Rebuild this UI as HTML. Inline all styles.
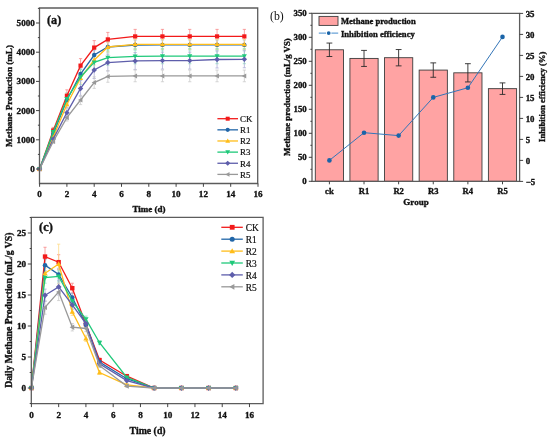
<!DOCTYPE html>
<html><head><meta charset="utf-8"><style>
html,body{margin:0;padding:0;background:#fff;}
body{width:550px;height:440px;overflow:hidden;}
svg{display:block;}
text{fill:#111;}
text[font-weight="bold"]{stroke:#111;stroke-width:0.35px;}
.lg{stroke:#111;stroke-width:0.2px;}
</style></head><body>
<svg width="550" height="440" viewBox="0 0 550 440">
<rect width="550" height="440" fill="#fff"/>
<path d="M53.25 127.37V133.54M51.65 127.37h3.2M51.65 133.54h3.2" stroke="#f88a8a" stroke-width="0.8" fill="none"/><path d="M66.90 89.84V101.57M65.30 89.84h3.2M65.30 101.57h3.2" stroke="#f88a8a" stroke-width="0.8" fill="none"/><path d="M80.55 58.62V72.64M78.95 58.62h3.2M78.95 72.64h3.2" stroke="#f88a8a" stroke-width="0.8" fill="none"/><path d="M94.20 40.58V54.59M92.60 40.58h3.2M92.60 54.59h3.2" stroke="#f88a8a" stroke-width="0.8" fill="none"/><path d="M107.85 32.40V46.42M106.25 32.40h3.2M106.25 46.42h3.2" stroke="#f88a8a" stroke-width="0.8" fill="none"/><path d="M135.15 29.39V43.41M133.55 29.39h3.2M133.55 43.41h3.2" stroke="#f88a8a" stroke-width="0.8" fill="none"/><path d="M162.45 29.39V43.41M160.85 29.39h3.2M160.85 43.41h3.2" stroke="#f88a8a" stroke-width="0.8" fill="none"/><path d="M189.75 29.39V43.41M188.15 29.39h3.2M188.15 43.41h3.2" stroke="#f88a8a" stroke-width="0.8" fill="none"/><path d="M217.05 29.39V43.41M215.45 29.39h3.2M215.45 43.41h3.2" stroke="#f88a8a" stroke-width="0.8" fill="none"/><path d="M244.35 29.39V43.41M242.75 29.39h3.2M242.75 43.41h3.2" stroke="#f88a8a" stroke-width="0.8" fill="none"/><path d="M53.25 131.97V135.95M51.65 131.97h3.2M51.65 135.95h3.2" stroke="#8fb3d6" stroke-width="0.8" fill="none"/><path d="M66.90 96.03V103.86M65.30 96.03h3.2M65.30 103.86h3.2" stroke="#8fb3d6" stroke-width="0.8" fill="none"/><path d="M80.55 69.05V78.98M78.95 69.05h3.2M78.95 78.98h3.2" stroke="#8fb3d6" stroke-width="0.8" fill="none"/><path d="M94.20 50.04V59.97M92.60 50.04h3.2M92.60 59.97h3.2" stroke="#8fb3d6" stroke-width="0.8" fill="none"/><path d="M107.85 42.04V51.97M106.25 42.04h3.2M106.25 51.97h3.2" stroke="#8fb3d6" stroke-width="0.8" fill="none"/><path d="M135.15 40.02V49.95M133.55 40.02h3.2M133.55 49.95h3.2" stroke="#8fb3d6" stroke-width="0.8" fill="none"/><path d="M162.45 39.94V49.86M160.85 39.94h3.2M160.85 49.86h3.2" stroke="#8fb3d6" stroke-width="0.8" fill="none"/><path d="M189.75 39.94V49.86M188.15 39.94h3.2M188.15 49.86h3.2" stroke="#8fb3d6" stroke-width="0.8" fill="none"/><path d="M217.05 39.94V49.86M215.45 39.94h3.2M215.45 49.86h3.2" stroke="#8fb3d6" stroke-width="0.8" fill="none"/><path d="M244.35 39.94V49.86M242.75 39.94h3.2M242.75 49.86h3.2" stroke="#8fb3d6" stroke-width="0.8" fill="none"/><path d="M53.25 135.06V138.70M51.65 135.06h3.2M51.65 138.70h3.2" stroke="#ffdc8a" stroke-width="0.8" fill="none"/><path d="M66.90 100.81V108.12M65.30 100.81h3.2M65.30 108.12h3.2" stroke="#ffdc8a" stroke-width="0.8" fill="none"/><path d="M80.55 73.05V82.98M78.95 73.05h3.2M78.95 82.98h3.2" stroke="#ffdc8a" stroke-width="0.8" fill="none"/><path d="M94.20 55.03V64.96M92.60 55.03h3.2M92.60 64.96h3.2" stroke="#ffdc8a" stroke-width="0.8" fill="none"/><path d="M107.85 42.04V51.97M106.25 42.04h3.2M106.25 51.97h3.2" stroke="#ffdc8a" stroke-width="0.8" fill="none"/><path d="M135.15 39.35V49.28M133.55 39.35h3.2M133.55 49.28h3.2" stroke="#ffdc8a" stroke-width="0.8" fill="none"/><path d="M162.45 39.50V49.43M160.85 39.50h3.2M160.85 49.43h3.2" stroke="#ffdc8a" stroke-width="0.8" fill="none"/><path d="M189.75 39.50V49.43M188.15 39.50h3.2M188.15 49.43h3.2" stroke="#ffdc8a" stroke-width="0.8" fill="none"/><path d="M217.05 39.50V49.43M215.45 39.50h3.2M215.45 49.43h3.2" stroke="#ffdc8a" stroke-width="0.8" fill="none"/><path d="M244.35 39.50V49.43M242.75 39.50h3.2M242.75 49.43h3.2" stroke="#ffdc8a" stroke-width="0.8" fill="none"/><path d="M53.25 128.70V135.13M51.65 128.70h3.2M51.65 135.13h3.2" stroke="#8fe4bd" stroke-width="0.8" fill="none"/><path d="M66.90 92.85V104.99M65.30 92.85h3.2M65.30 104.99h3.2" stroke="#8fe4bd" stroke-width="0.8" fill="none"/><path d="M80.55 69.43V84.61M78.95 69.43h3.2M78.95 84.61h3.2" stroke="#8fe4bd" stroke-width="0.8" fill="none"/><path d="M94.20 54.83V70.01M92.60 54.83h3.2M92.60 70.01h3.2" stroke="#8fe4bd" stroke-width="0.8" fill="none"/><path d="M107.85 50.01V65.19M106.25 50.01h3.2M106.25 65.19h3.2" stroke="#8fe4bd" stroke-width="0.8" fill="none"/><path d="M135.15 48.70V63.88M133.55 48.70h3.2M133.55 63.88h3.2" stroke="#8fe4bd" stroke-width="0.8" fill="none"/><path d="M162.45 48.55V63.73M160.85 48.55h3.2M160.85 63.73h3.2" stroke="#8fe4bd" stroke-width="0.8" fill="none"/><path d="M189.75 48.55V63.73M188.15 48.55h3.2M188.15 63.73h3.2" stroke="#8fe4bd" stroke-width="0.8" fill="none"/><path d="M217.05 48.55V63.73M215.45 48.55h3.2M215.45 63.73h3.2" stroke="#8fe4bd" stroke-width="0.8" fill="none"/><path d="M244.35 48.55V63.73M242.75 48.55h3.2M242.75 63.73h3.2" stroke="#8fe4bd" stroke-width="0.8" fill="none"/><path d="M53.25 136.02V141.83M51.65 136.02h3.2M51.65 141.83h3.2" stroke="#aeaed6" stroke-width="0.8" fill="none"/><path d="M66.90 107.20V118.09M65.30 107.20h3.2M65.30 118.09h3.2" stroke="#aeaed6" stroke-width="0.8" fill="none"/><path d="M80.55 80.62V96.20M78.95 80.62h3.2M78.95 96.20h3.2" stroke="#aeaed6" stroke-width="0.8" fill="none"/><path d="M94.20 61.54V78.48M92.60 61.54h3.2M92.60 78.48h3.2" stroke="#aeaed6" stroke-width="0.8" fill="none"/><path d="M107.85 54.13V71.06M106.25 54.13h3.2M106.25 71.06h3.2" stroke="#aeaed6" stroke-width="0.8" fill="none"/><path d="M135.15 52.49V69.43M133.55 52.49h3.2M133.55 69.43h3.2" stroke="#aeaed6" stroke-width="0.8" fill="none"/><path d="M162.45 52.14V69.08M160.85 52.14h3.2M160.85 69.08h3.2" stroke="#aeaed6" stroke-width="0.8" fill="none"/><path d="M189.75 52.14V69.08M188.15 52.14h3.2M188.15 69.08h3.2" stroke="#aeaed6" stroke-width="0.8" fill="none"/><path d="M217.05 51.03V67.97M215.45 51.03h3.2M215.45 67.97h3.2" stroke="#aeaed6" stroke-width="0.8" fill="none"/><path d="M244.35 50.83V67.76M242.75 50.83h3.2M242.75 67.76h3.2" stroke="#aeaed6" stroke-width="0.8" fill="none"/><path d="M53.25 139.72V143.38M51.65 139.72h3.2M51.65 143.38h3.2" stroke="#cccccc" stroke-width="0.8" fill="none"/><path d="M66.90 114.18V121.03M65.30 114.18h3.2M65.30 121.03h3.2" stroke="#cccccc" stroke-width="0.8" fill="none"/><path d="M80.55 95.40V104.60M78.95 95.40h3.2M78.95 104.60h3.2" stroke="#cccccc" stroke-width="0.8" fill="none"/><path d="M94.20 76.84V88.36M92.60 76.84h3.2M92.60 88.36h3.2" stroke="#cccccc" stroke-width="0.8" fill="none"/><path d="M107.85 70.57V82.25M106.25 70.57h3.2M106.25 82.25h3.2" stroke="#cccccc" stroke-width="0.8" fill="none"/><path d="M135.15 70.07V81.75M133.55 70.07h3.2M133.55 81.75h3.2" stroke="#cccccc" stroke-width="0.8" fill="none"/><path d="M162.45 70.07V81.75M160.85 70.07h3.2M160.85 81.75h3.2" stroke="#cccccc" stroke-width="0.8" fill="none"/><path d="M189.75 70.07V81.75M188.15 70.07h3.2M188.15 81.75h3.2" stroke="#cccccc" stroke-width="0.8" fill="none"/><path d="M217.05 70.07V81.75M215.45 70.07h3.2M215.45 81.75h3.2" stroke="#cccccc" stroke-width="0.8" fill="none"/><path d="M244.35 70.07V81.75M242.75 70.07h3.2M242.75 81.75h3.2" stroke="#cccccc" stroke-width="0.8" fill="none"/><polyline points="39.60,169.00 53.25,130.46 66.90,95.71 80.55,65.63 94.20,47.59 107.85,39.41 135.15,36.40 162.45,36.40 189.75,36.40 217.05,36.40 244.35,36.40" fill="none" stroke="#f21a1a" stroke-width="1.3"/><rect x="37.50" y="166.90" width="4.20" height="4.20" fill="#f21a1a"/><rect x="51.15" y="128.36" width="4.20" height="4.20" fill="#f21a1a"/><rect x="64.80" y="93.61" width="4.20" height="4.20" fill="#f21a1a"/><rect x="78.45" y="63.53" width="4.20" height="4.20" fill="#f21a1a"/><rect x="92.10" y="45.49" width="4.20" height="4.20" fill="#f21a1a"/><rect x="105.75" y="37.31" width="4.20" height="4.20" fill="#f21a1a"/><rect x="133.05" y="34.30" width="4.20" height="4.20" fill="#f21a1a"/><rect x="160.35" y="34.30" width="4.20" height="4.20" fill="#f21a1a"/><rect x="187.65" y="34.30" width="4.20" height="4.20" fill="#f21a1a"/><rect x="214.95" y="34.30" width="4.20" height="4.20" fill="#f21a1a"/><rect x="242.25" y="34.30" width="4.20" height="4.20" fill="#f21a1a"/><polyline points="39.60,169.00 53.25,133.96 66.90,99.94 80.55,74.01 94.20,55.00 107.85,47.00 135.15,44.99 162.45,44.90 189.75,44.90 217.05,44.90 244.35,44.90" fill="none" stroke="#2166a8" stroke-width="1.3"/><circle cx="39.60" cy="169.00" r="2.21" fill="#2166a8"/><circle cx="53.25" cy="133.96" r="2.21" fill="#2166a8"/><circle cx="66.90" cy="99.94" r="2.21" fill="#2166a8"/><circle cx="80.55" cy="74.01" r="2.21" fill="#2166a8"/><circle cx="94.20" cy="55.00" r="2.21" fill="#2166a8"/><circle cx="107.85" cy="47.00" r="2.21" fill="#2166a8"/><circle cx="135.15" cy="44.99" r="2.21" fill="#2166a8"/><circle cx="162.45" cy="44.90" r="2.21" fill="#2166a8"/><circle cx="189.75" cy="44.90" r="2.21" fill="#2166a8"/><circle cx="217.05" cy="44.90" r="2.21" fill="#2166a8"/><circle cx="244.35" cy="44.90" r="2.21" fill="#2166a8"/><polyline points="39.60,169.00 53.25,136.88 66.90,104.47 80.55,78.01 94.20,60.00 107.85,47.00 135.15,44.32 162.45,44.46 189.75,44.46 217.05,44.46 244.35,44.46" fill="none" stroke="#ffbd1a" stroke-width="1.3"/><polygon points="39.60,166.48 42.12,170.89 37.08,170.89" fill="#ffbd1a"/><polygon points="53.25,134.36 55.77,138.77 50.73,138.77" fill="#ffbd1a"/><polygon points="66.90,101.95 69.42,106.36 64.38,106.36" fill="#ffbd1a"/><polygon points="80.55,75.49 83.07,79.90 78.03,79.90" fill="#ffbd1a"/><polygon points="94.20,57.48 96.72,61.89 91.68,61.89" fill="#ffbd1a"/><polygon points="107.85,44.48 110.37,48.89 105.33,48.89" fill="#ffbd1a"/><polygon points="135.15,41.80 137.67,46.21 132.63,46.21" fill="#ffbd1a"/><polygon points="162.45,41.94 164.97,46.35 159.93,46.35" fill="#ffbd1a"/><polygon points="189.75,41.94 192.27,46.35 187.23,46.35" fill="#ffbd1a"/><polygon points="217.05,41.94 219.57,46.35 214.53,46.35" fill="#ffbd1a"/><polygon points="244.35,41.94 246.87,46.35 241.83,46.35" fill="#ffbd1a"/><polyline points="39.60,169.00 53.25,131.92 66.90,98.92 80.55,77.02 94.20,62.42 107.85,57.60 135.15,56.29 162.45,56.14 189.75,56.14 217.05,56.14 244.35,56.14" fill="none" stroke="#1fc97a" stroke-width="1.3"/><polygon points="39.60,171.52 42.12,167.11 37.08,167.11" fill="#1fc97a"/><polygon points="53.25,134.44 55.77,130.03 50.73,130.03" fill="#1fc97a"/><polygon points="66.90,101.44 69.42,97.03 64.38,97.03" fill="#1fc97a"/><polygon points="80.55,79.54 83.07,75.13 78.03,75.13" fill="#1fc97a"/><polygon points="94.20,64.94 96.72,60.53 91.68,60.53" fill="#1fc97a"/><polygon points="107.85,60.12 110.37,55.71 105.33,55.71" fill="#1fc97a"/><polygon points="135.15,58.81 137.67,54.40 132.63,54.40" fill="#1fc97a"/><polygon points="162.45,58.66 164.97,54.25 159.93,54.25" fill="#1fc97a"/><polygon points="189.75,58.66 192.27,54.25 187.23,54.25" fill="#1fc97a"/><polygon points="217.05,58.66 219.57,54.25 214.53,54.25" fill="#1fc97a"/><polygon points="244.35,58.66 246.87,54.25 241.83,54.25" fill="#1fc97a"/><polyline points="39.60,169.00 53.25,138.92 66.90,112.64 80.55,88.41 94.20,70.01 107.85,62.60 135.15,60.96 162.45,60.61 189.75,60.61 217.05,59.50 244.35,59.30" fill="none" stroke="#5e5eab" stroke-width="1.3"/><polygon points="39.60,166.27 42.33,169.00 39.60,171.73 36.87,169.00" fill="#5e5eab"/><polygon points="53.25,136.19 55.98,138.92 53.25,141.65 50.52,138.92" fill="#5e5eab"/><polygon points="66.90,109.91 69.63,112.64 66.90,115.37 64.17,112.64" fill="#5e5eab"/><polygon points="80.55,85.68 83.28,88.41 80.55,91.14 77.82,88.41" fill="#5e5eab"/><polygon points="94.20,67.28 96.93,70.01 94.20,72.74 91.47,70.01" fill="#5e5eab"/><polygon points="107.85,59.87 110.58,62.60 107.85,65.33 105.12,62.60" fill="#5e5eab"/><polygon points="135.15,58.23 137.88,60.96 135.15,63.69 132.42,60.96" fill="#5e5eab"/><polygon points="162.45,57.88 165.18,60.61 162.45,63.34 159.72,60.61" fill="#5e5eab"/><polygon points="189.75,57.88 192.48,60.61 189.75,63.34 187.02,60.61" fill="#5e5eab"/><polygon points="217.05,56.77 219.78,59.50 217.05,62.23 214.32,59.50" fill="#5e5eab"/><polygon points="244.35,56.57 247.08,59.30 244.35,62.03 241.62,59.30" fill="#5e5eab"/><polyline points="39.60,169.00 53.25,141.55 66.90,117.61 80.55,100.00 94.20,82.60 107.85,76.41 135.15,75.91 162.45,75.91 189.75,75.91 217.05,75.91 244.35,75.91" fill="none" stroke="#999999" stroke-width="1.3"/><polygon points="37.08,169.00 41.49,166.48 41.49,171.52" fill="#999999"/><polygon points="50.73,141.55 55.14,139.03 55.14,144.07" fill="#999999"/><polygon points="64.38,117.61 68.79,115.09 68.79,120.13" fill="#999999"/><polygon points="78.03,100.00 82.44,97.48 82.44,102.52" fill="#999999"/><polygon points="91.68,82.60 96.09,80.08 96.09,85.12" fill="#999999"/><polygon points="105.33,76.41 109.74,73.89 109.74,78.93" fill="#999999"/><polygon points="132.63,75.91 137.04,73.39 137.04,78.43" fill="#999999"/><polygon points="159.93,75.91 164.34,73.39 164.34,78.43" fill="#999999"/><polygon points="187.23,75.91 191.64,73.39 191.64,78.43" fill="#999999"/><polygon points="214.53,75.91 218.94,73.39 218.94,78.43" fill="#999999"/><polygon points="241.83,75.91 246.24,73.39 246.24,78.43" fill="#999999"/>
<path d="M39.5 8.0H257.7V183.5H39.5Z" fill="none" stroke="#5c5c5c" stroke-width="1.3"/>
<text x="34.8" y="172.00" text-anchor="end" font-size="9.1" font-weight="bold" font-family="Liberation Serif, serif">0</text>
<text x="34.8" y="142.80" text-anchor="end" font-size="9.1" font-weight="bold" font-family="Liberation Serif, serif">1000</text>
<text x="34.8" y="113.60" text-anchor="end" font-size="9.1" font-weight="bold" font-family="Liberation Serif, serif">2000</text>
<text x="34.8" y="84.40" text-anchor="end" font-size="9.1" font-weight="bold" font-family="Liberation Serif, serif">3000</text>
<text x="34.8" y="55.20" text-anchor="end" font-size="9.1" font-weight="bold" font-family="Liberation Serif, serif">4000</text>
<text x="34.8" y="26.00" text-anchor="end" font-size="9.1" font-weight="bold" font-family="Liberation Serif, serif">5000</text>
<text x="39.60" y="196.9" text-anchor="middle" font-size="9.1" font-weight="bold" font-family="Liberation Serif, serif">0</text>
<text x="66.90" y="196.9" text-anchor="middle" font-size="9.1" font-weight="bold" font-family="Liberation Serif, serif">2</text>
<text x="94.20" y="196.9" text-anchor="middle" font-size="9.1" font-weight="bold" font-family="Liberation Serif, serif">4</text>
<text x="121.50" y="196.9" text-anchor="middle" font-size="9.1" font-weight="bold" font-family="Liberation Serif, serif">6</text>
<text x="148.80" y="196.9" text-anchor="middle" font-size="9.1" font-weight="bold" font-family="Liberation Serif, serif">8</text>
<text x="176.10" y="196.9" text-anchor="middle" font-size="9.1" font-weight="bold" font-family="Liberation Serif, serif">10</text>
<text x="203.40" y="196.9" text-anchor="middle" font-size="9.1" font-weight="bold" font-family="Liberation Serif, serif">12</text>
<text x="230.70" y="196.9" text-anchor="middle" font-size="9.1" font-weight="bold" font-family="Liberation Serif, serif">14</text>
<text x="258.00" y="196.9" text-anchor="middle" font-size="9.1" font-weight="bold" font-family="Liberation Serif, serif">16</text>
<path d="M36.0 169.00H39.5M36.0 139.80H39.5M36.0 110.60H39.5M36.0 81.40H39.5M36.0 52.20H39.5M36.0 23.00H39.5M37.9 154.40H39.5M37.9 125.20H39.5M37.9 96.00H39.5M37.9 66.80H39.5M37.9 37.60H39.5M37.9 8.40H39.5M39.60 183.5V186.8M66.90 183.5V186.8M94.20 183.5V186.8M121.50 183.5V186.8M148.80 183.5V186.8M176.10 183.5V186.8M203.40 183.5V186.8M230.70 183.5V186.8M258.00 183.5V186.8" stroke="#3a3a3a" stroke-width="0.95"/>
<text x="149" y="211.7" text-anchor="middle" font-size="9" font-weight="bold" font-family="Liberation Serif, serif">Time (d)</text>
<text transform="translate(12.4 96) rotate(-90)" text-anchor="middle" font-size="9.1" font-weight="bold" font-family="Liberation Serif, serif">Methane Production (mL)</text>
<text x="47" y="23.9" font-size="12.2" font-weight="bold" font-family="Liberation Serif, serif">(a)</text>
<path d="M217.4 118.70H238" stroke="#f21a1a" stroke-width="1.3"/>
<rect x="225.70" y="116.70" width="4.00" height="4.00" fill="#f21a1a"/>
<text x="240" y="122.00" font-size="8.9" class="lg" font-family="Liberation Serif, serif">CK</text>
<path d="M217.4 129.84H238" stroke="#2166a8" stroke-width="1.3"/>
<circle cx="227.70" cy="129.84" r="2.10" fill="#2166a8"/>
<text x="240" y="133.14" font-size="8.9" class="lg" font-family="Liberation Serif, serif">R1</text>
<path d="M217.4 140.98H238" stroke="#ffbd1a" stroke-width="1.3"/>
<polygon points="227.70,138.58 230.10,142.78 225.30,142.78" fill="#ffbd1a"/>
<text x="240" y="144.28" font-size="8.9" class="lg" font-family="Liberation Serif, serif">R2</text>
<path d="M217.4 152.12H238" stroke="#1fc97a" stroke-width="1.3"/>
<polygon points="227.70,154.52 230.10,150.32 225.30,150.32" fill="#1fc97a"/>
<text x="240" y="155.42" font-size="8.9" class="lg" font-family="Liberation Serif, serif">R3</text>
<path d="M217.4 163.26H238" stroke="#5e5eab" stroke-width="1.3"/>
<polygon points="227.70,160.66 230.30,163.26 227.70,165.86 225.10,163.26" fill="#5e5eab"/>
<text x="240" y="166.56" font-size="8.9" class="lg" font-family="Liberation Serif, serif">R4</text>
<path d="M217.4 174.40H238" stroke="#999999" stroke-width="1.3"/>
<polygon points="225.30,174.40 229.50,172.00 229.50,176.80" fill="#999999"/>
<text x="240" y="177.70" font-size="8.9" class="lg" font-family="Liberation Serif, serif">R5</text>
<rect x="315.30" y="49.78" width="28.2" height="131.52" fill="#ffa3a3" stroke="#3c3c3c" stroke-width="0.9"/>
<rect x="349.92" y="58.42" width="28.2" height="122.88" fill="#ffa3a3" stroke="#3c3c3c" stroke-width="0.9"/>
<rect x="384.54" y="57.70" width="28.2" height="123.60" fill="#ffa3a3" stroke="#3c3c3c" stroke-width="0.9"/>
<rect x="419.16" y="70.08" width="28.2" height="111.22" fill="#ffa3a3" stroke="#3c3c3c" stroke-width="0.9"/>
<rect x="453.78" y="72.82" width="28.2" height="108.48" fill="#ffa3a3" stroke="#3c3c3c" stroke-width="0.9"/>
<rect x="488.40" y="88.66" width="28.2" height="92.64" fill="#ffa3a3" stroke="#3c3c3c" stroke-width="0.9"/>
<path d="M329.40 43.06V56.50M326.50 43.06h5.8M326.50 56.50h5.8" stroke="#2a2a2a" stroke-width="0.9" fill="none"/>
<path d="M364.02 50.40V66.44M361.12 50.40h5.8M361.12 66.44h5.8" stroke="#2a2a2a" stroke-width="0.9" fill="none"/>
<path d="M398.64 49.54V65.86M395.74 49.54h5.8M395.74 65.86h5.8" stroke="#2a2a2a" stroke-width="0.9" fill="none"/>
<path d="M433.26 62.88V77.28M430.36 62.88h5.8M430.36 77.28h5.8" stroke="#2a2a2a" stroke-width="0.9" fill="none"/>
<path d="M467.88 63.70V81.94M464.98 63.70h5.8M464.98 81.94h5.8" stroke="#2a2a2a" stroke-width="0.9" fill="none"/>
<path d="M502.50 82.90V94.42M499.60 82.90h5.8M499.60 94.42h5.8" stroke="#2a2a2a" stroke-width="0.9" fill="none"/>
<polyline points="329.40,160.40 364.02,132.68 398.64,135.62 433.26,97.40 467.88,87.74 502.50,36.92" fill="none" stroke="#3375b8" stroke-width="1"/>
<circle cx="329.40" cy="160.40" r="2.3" fill="#1a64a8"/>
<circle cx="364.02" cy="132.68" r="2.3" fill="#1a64a8"/>
<circle cx="398.64" cy="135.62" r="2.3" fill="#1a64a8"/>
<circle cx="433.26" cy="97.40" r="2.3" fill="#1a64a8"/>
<circle cx="467.88" cy="87.74" r="2.3" fill="#1a64a8"/>
<circle cx="502.50" cy="36.92" r="2.3" fill="#1a64a8"/>
<path d="M312.0 13.3H519.6V181.3H312.0Z" fill="none" stroke="#5c5c5c" stroke-width="1.3"/>
<text x="306.7" y="184.10" text-anchor="end" font-size="8.8" font-weight="bold" font-family="Liberation Serif, serif">0</text>
<text x="306.7" y="160.10" text-anchor="end" font-size="8.8" font-weight="bold" font-family="Liberation Serif, serif">50</text>
<text x="306.7" y="136.10" text-anchor="end" font-size="8.8" font-weight="bold" font-family="Liberation Serif, serif">100</text>
<text x="306.7" y="112.10" text-anchor="end" font-size="8.8" font-weight="bold" font-family="Liberation Serif, serif">150</text>
<text x="306.7" y="88.10" text-anchor="end" font-size="8.8" font-weight="bold" font-family="Liberation Serif, serif">200</text>
<text x="306.7" y="64.10" text-anchor="end" font-size="8.8" font-weight="bold" font-family="Liberation Serif, serif">250</text>
<text x="306.7" y="40.10" text-anchor="end" font-size="8.8" font-weight="bold" font-family="Liberation Serif, serif">300</text>
<text x="306.7" y="16.10" text-anchor="end" font-size="8.8" font-weight="bold" font-family="Liberation Serif, serif">350</text>
<text x="525.7" y="184.70" font-size="8.8" font-weight="bold" font-family="Liberation Serif, serif">−5</text>
<text x="525.7" y="163.70" font-size="8.8" font-weight="bold" font-family="Liberation Serif, serif">0</text>
<text x="525.7" y="142.70" font-size="8.8" font-weight="bold" font-family="Liberation Serif, serif">5</text>
<text x="525.7" y="121.70" font-size="8.8" font-weight="bold" font-family="Liberation Serif, serif">10</text>
<text x="525.7" y="100.70" font-size="8.8" font-weight="bold" font-family="Liberation Serif, serif">15</text>
<text x="525.7" y="79.70" font-size="8.8" font-weight="bold" font-family="Liberation Serif, serif">20</text>
<text x="525.7" y="58.70" font-size="8.8" font-weight="bold" font-family="Liberation Serif, serif">25</text>
<text x="525.7" y="37.70" font-size="8.8" font-weight="bold" font-family="Liberation Serif, serif">30</text>
<text x="525.7" y="16.70" font-size="8.8" font-weight="bold" font-family="Liberation Serif, serif">35</text>
<text x="329.40" y="193.70000000000002" text-anchor="middle" font-size="8.6" font-weight="bold" font-family="Liberation Serif, serif">ck</text>
<text x="364.02" y="193.70000000000002" text-anchor="middle" font-size="8.6" font-weight="bold" font-family="Liberation Serif, serif">R1</text>
<text x="398.64" y="193.70000000000002" text-anchor="middle" font-size="8.6" font-weight="bold" font-family="Liberation Serif, serif">R2</text>
<text x="433.26" y="193.70000000000002" text-anchor="middle" font-size="8.6" font-weight="bold" font-family="Liberation Serif, serif">R3</text>
<text x="467.88" y="193.70000000000002" text-anchor="middle" font-size="8.6" font-weight="bold" font-family="Liberation Serif, serif">R4</text>
<text x="502.50" y="193.70000000000002" text-anchor="middle" font-size="8.6" font-weight="bold" font-family="Liberation Serif, serif">R5</text>
<path d="M308.8 181.30H312.0M308.8 157.30H312.0M308.8 133.30H312.0M308.8 109.30H312.0M308.8 85.30H312.0M308.8 61.30H312.0M308.8 37.30H312.0M308.8 13.30H312.0M310.4 169.30H312.0M310.4 145.30H312.0M310.4 121.30H312.0M310.4 97.30H312.0M310.4 73.30H312.0M310.4 49.30H312.0M310.4 25.30H312.0M519.6 181.40H523.1M519.6 160.40H523.1M519.6 139.40H523.1M519.6 118.40H523.1M519.6 97.40H523.1M519.6 76.40H523.1M519.6 55.40H523.1M519.6 34.40H523.1M519.6 13.40H523.1M329.40 181.3V184.3M364.02 181.3V184.3M398.64 181.3V184.3M433.26 181.3V184.3M467.88 181.3V184.3M502.50 181.3V184.3" stroke="#3a3a3a" stroke-width="0.95"/>
<text x="416" y="205.2" text-anchor="middle" font-size="9" font-weight="bold" font-family="Liberation Serif, serif">Group</text>
<text transform="translate(290 97.1) rotate(-90)" text-anchor="middle" font-size="8.75" font-weight="bold" font-family="Liberation Serif, serif">Methane production (mL/g VS)</text>
<text transform="translate(544.7 96.8) rotate(-90)" text-anchor="middle" font-size="8.6" font-weight="bold" font-family="Liberation Serif, serif">Inhibition efficiency (%)</text>
<text x="270" y="19.8" font-size="11.8" font-family="Liberation Serif, serif">(b)</text>
<rect x="319" y="16.4" width="19" height="9" fill="#ffa3a3" stroke="#3c3c3c" stroke-width="0.9"/>
<text x="341" y="23.8" font-size="8.55" font-weight="bold" font-family="Liberation Serif, serif">Methane production</text>
<path d="M318.8 33.1H326M331.4 33.1H338.2" stroke="#6aa3d8" stroke-width="1.1"/><circle cx="328.7" cy="33.1" r="1.9" fill="#1a64a8"/>
<text x="341" y="36.6" font-size="8.6" font-weight="bold" font-family="Liberation Serif, serif">Inhibition efficiency</text>
<path d="M45.03 247.26V265.86M43.43 247.26h3.2M43.43 265.86h3.2" stroke="#f88a8a" stroke-width="0.8" fill="none"/><path d="M58.66 254.70V269.58M57.06 254.70h3.2M57.06 269.58h3.2" stroke="#f88a8a" stroke-width="0.8" fill="none"/><path d="M72.29 283.22V293.14M70.69 283.22h3.2M70.69 293.14h3.2" stroke="#f88a8a" stroke-width="0.8" fill="none"/><path d="M85.92 321.04V327.24M84.32 321.04h3.2M84.32 327.24h3.2" stroke="#f88a8a" stroke-width="0.8" fill="none"/><path d="M99.55 358.24V361.96M97.95 358.24h3.2M97.95 361.96h3.2" stroke="#f88a8a" stroke-width="0.8" fill="none"/><path d="M126.81 374.36V378.08M125.21 374.36h3.2M125.21 378.08h3.2" stroke="#f88a8a" stroke-width="0.8" fill="none"/><path d="M45.03 259.66V270.82M43.43 259.66h3.2M43.43 270.82h3.2" stroke="#8fb3d6" stroke-width="0.8" fill="none"/><path d="M58.66 268.34V280.74M57.06 268.34h3.2M57.06 280.74h3.2" stroke="#8fb3d6" stroke-width="0.8" fill="none"/><path d="M72.29 293.14V301.82M70.69 293.14h3.2M70.69 301.82h3.2" stroke="#8fb3d6" stroke-width="0.8" fill="none"/><path d="M85.92 321.66V327.86M84.32 321.66h3.2M84.32 327.86h3.2" stroke="#8fb3d6" stroke-width="0.8" fill="none"/><path d="M99.55 360.10V363.82M97.95 360.10h3.2M97.95 363.82h3.2" stroke="#8fb3d6" stroke-width="0.8" fill="none"/><path d="M126.81 377.46V379.94M125.21 377.46h3.2M125.21 379.94h3.2" stroke="#8fb3d6" stroke-width="0.8" fill="none"/><path d="M45.03 268.34V278.26M43.43 268.34h3.2M43.43 278.26h3.2" stroke="#ffdc8a" stroke-width="0.8" fill="none"/><path d="M58.66 244.16V283.84M57.06 244.16h3.2M57.06 283.84h3.2" stroke="#ffdc8a" stroke-width="0.8" fill="none"/><path d="M72.29 308.02V315.46M70.69 308.02h3.2M70.69 315.46h3.2" stroke="#ffdc8a" stroke-width="0.8" fill="none"/><path d="M85.92 335.30V341.50M84.32 335.30h3.2M84.32 341.50h3.2" stroke="#ffdc8a" stroke-width="0.8" fill="none"/><path d="M99.55 370.64V374.36M97.95 370.64h3.2M97.95 374.36h3.2" stroke="#ffdc8a" stroke-width="0.8" fill="none"/><path d="M126.81 383.66V386.14M125.21 383.66h3.2M125.21 386.14h3.2" stroke="#ffdc8a" stroke-width="0.8" fill="none"/><path d="M45.03 272.06V283.22M43.43 272.06h3.2M43.43 283.22h3.2" stroke="#8fe4bd" stroke-width="0.8" fill="none"/><path d="M58.66 270.82V281.98M57.06 270.82h3.2M57.06 281.98h3.2" stroke="#8fe4bd" stroke-width="0.8" fill="none"/><path d="M72.29 296.86V305.54M70.69 296.86h3.2M70.69 305.54h3.2" stroke="#8fe4bd" stroke-width="0.8" fill="none"/><path d="M85.92 316.08V322.28M84.32 316.08h3.2M84.32 322.28h3.2" stroke="#8fe4bd" stroke-width="0.8" fill="none"/><path d="M99.55 340.88V344.60M97.95 340.88h3.2M97.95 344.60h3.2" stroke="#8fe4bd" stroke-width="0.8" fill="none"/><path d="M126.81 376.22V378.70M125.21 376.22h3.2M125.21 378.70h3.2" stroke="#8fe4bd" stroke-width="0.8" fill="none"/><path d="M45.03 289.11V301.51M43.43 289.11h3.2M43.43 301.51h3.2" stroke="#aeaed6" stroke-width="0.8" fill="none"/><path d="M58.66 278.88V295.00M57.06 278.88h3.2M57.06 295.00h3.2" stroke="#aeaed6" stroke-width="0.8" fill="none"/><path d="M72.29 300.58V309.26M70.69 300.58h3.2M70.69 309.26h3.2" stroke="#aeaed6" stroke-width="0.8" fill="none"/><path d="M85.92 320.42V326.62M84.32 320.42h3.2M84.32 326.62h3.2" stroke="#aeaed6" stroke-width="0.8" fill="none"/><path d="M99.55 361.96V365.68M97.95 361.96h3.2M97.95 365.68h3.2" stroke="#aeaed6" stroke-width="0.8" fill="none"/><path d="M126.81 379.32V381.80M125.21 379.32h3.2M125.21 381.80h3.2" stroke="#aeaed6" stroke-width="0.8" fill="none"/><path d="M45.03 300.58V314.22M43.43 300.58h3.2M43.43 314.22h3.2" stroke="#cccccc" stroke-width="0.8" fill="none"/><path d="M58.66 283.22V300.58M57.06 283.22h3.2M57.06 300.58h3.2" stroke="#cccccc" stroke-width="0.8" fill="none"/><path d="M72.29 323.52V330.96M70.69 323.52h3.2M70.69 330.96h3.2" stroke="#cccccc" stroke-width="0.8" fill="none"/><path d="M85.92 325.38V331.58M84.32 325.38h3.2M84.32 331.58h3.2" stroke="#cccccc" stroke-width="0.8" fill="none"/><path d="M99.55 363.82V367.54M97.95 363.82h3.2M97.95 367.54h3.2" stroke="#cccccc" stroke-width="0.8" fill="none"/><path d="M126.81 384.90V387.38M125.21 384.90h3.2M125.21 387.38h3.2" stroke="#cccccc" stroke-width="0.8" fill="none"/><polyline points="31.40,388.00 45.03,256.56 58.66,262.14 72.29,288.18 85.92,324.14 99.55,360.10 126.81,376.22 154.07,388.00 181.33,388.00 208.59,388.00 235.85,388.00" fill="none" stroke="#f21a1a" stroke-width="1.3"/><rect x="29.20" y="385.80" width="4.40" height="4.40" fill="#f21a1a"/><rect x="42.83" y="254.36" width="4.40" height="4.40" fill="#f21a1a"/><rect x="56.46" y="259.94" width="4.40" height="4.40" fill="#f21a1a"/><rect x="70.09" y="285.98" width="4.40" height="4.40" fill="#f21a1a"/><rect x="83.72" y="321.94" width="4.40" height="4.40" fill="#f21a1a"/><rect x="97.35" y="357.90" width="4.40" height="4.40" fill="#f21a1a"/><rect x="124.61" y="374.02" width="4.40" height="4.40" fill="#f21a1a"/><rect x="151.87" y="385.80" width="4.40" height="4.40" fill="#f21a1a"/><rect x="179.13" y="385.80" width="4.40" height="4.40" fill="#f21a1a"/><rect x="206.39" y="385.80" width="4.40" height="4.40" fill="#f21a1a"/><rect x="233.65" y="385.80" width="4.40" height="4.40" fill="#f21a1a"/><polyline points="31.40,388.00 45.03,265.24 58.66,274.54 72.29,297.48 85.92,324.76 99.55,361.96 126.81,378.70 154.07,388.00 181.33,388.00 208.59,388.00 235.85,388.00" fill="none" stroke="#2166a8" stroke-width="1.3"/><circle cx="31.40" cy="388.00" r="2.31" fill="#2166a8"/><circle cx="45.03" cy="265.24" r="2.31" fill="#2166a8"/><circle cx="58.66" cy="274.54" r="2.31" fill="#2166a8"/><circle cx="72.29" cy="297.48" r="2.31" fill="#2166a8"/><circle cx="85.92" cy="324.76" r="2.31" fill="#2166a8"/><circle cx="99.55" cy="361.96" r="2.31" fill="#2166a8"/><circle cx="126.81" cy="378.70" r="2.31" fill="#2166a8"/><circle cx="154.07" cy="388.00" r="2.31" fill="#2166a8"/><circle cx="181.33" cy="388.00" r="2.31" fill="#2166a8"/><circle cx="208.59" cy="388.00" r="2.31" fill="#2166a8"/><circle cx="235.85" cy="388.00" r="2.31" fill="#2166a8"/><polyline points="31.40,388.00 45.03,273.30 58.66,264.00 72.29,311.74 85.92,338.40 99.55,372.50 126.81,384.90 154.07,388.00 181.33,388.00 208.59,388.00 235.85,388.00" fill="none" stroke="#ffbd1a" stroke-width="1.3"/><polygon points="31.40,385.36 34.04,389.98 28.76,389.98" fill="#ffbd1a"/><polygon points="45.03,270.66 47.67,275.28 42.39,275.28" fill="#ffbd1a"/><polygon points="58.66,261.36 61.30,265.98 56.02,265.98" fill="#ffbd1a"/><polygon points="72.29,309.10 74.93,313.72 69.65,313.72" fill="#ffbd1a"/><polygon points="85.92,335.76 88.56,340.38 83.28,340.38" fill="#ffbd1a"/><polygon points="99.55,369.86 102.19,374.48 96.91,374.48" fill="#ffbd1a"/><polygon points="126.81,382.26 129.45,386.88 124.17,386.88" fill="#ffbd1a"/><polygon points="154.07,385.36 156.71,389.98 151.43,389.98" fill="#ffbd1a"/><polygon points="181.33,385.36 183.97,389.98 178.69,389.98" fill="#ffbd1a"/><polygon points="208.59,385.36 211.23,389.98 205.95,389.98" fill="#ffbd1a"/><polygon points="235.85,385.36 238.49,389.98 233.21,389.98" fill="#ffbd1a"/><polyline points="31.40,388.00 45.03,277.64 58.66,276.40 72.29,301.20 85.92,319.18 99.55,342.74 126.81,377.46 154.07,388.00 181.33,388.00 208.59,388.00 235.85,388.00" fill="none" stroke="#1fc97a" stroke-width="1.3"/><polygon points="31.40,390.64 34.04,386.02 28.76,386.02" fill="#1fc97a"/><polygon points="45.03,280.28 47.67,275.66 42.39,275.66" fill="#1fc97a"/><polygon points="58.66,279.04 61.30,274.42 56.02,274.42" fill="#1fc97a"/><polygon points="72.29,303.84 74.93,299.22 69.65,299.22" fill="#1fc97a"/><polygon points="85.92,321.82 88.56,317.20 83.28,317.20" fill="#1fc97a"/><polygon points="99.55,345.38 102.19,340.76 96.91,340.76" fill="#1fc97a"/><polygon points="126.81,380.10 129.45,375.48 124.17,375.48" fill="#1fc97a"/><polygon points="154.07,390.64 156.71,386.02 151.43,386.02" fill="#1fc97a"/><polygon points="181.33,390.64 183.97,386.02 178.69,386.02" fill="#1fc97a"/><polygon points="208.59,390.64 211.23,386.02 205.95,386.02" fill="#1fc97a"/><polygon points="235.85,390.64 238.49,386.02 233.21,386.02" fill="#1fc97a"/><polyline points="31.40,388.00 45.03,295.31 58.66,286.94 72.29,304.92 85.92,323.52 99.55,363.82 126.81,380.56 154.07,388.00 181.33,388.00 208.59,388.00 235.85,388.00" fill="none" stroke="#5e5eab" stroke-width="1.3"/><polygon points="31.40,385.14 34.26,388.00 31.40,390.86 28.54,388.00" fill="#5e5eab"/><polygon points="45.03,292.45 47.89,295.31 45.03,298.17 42.17,295.31" fill="#5e5eab"/><polygon points="58.66,284.08 61.52,286.94 58.66,289.80 55.80,286.94" fill="#5e5eab"/><polygon points="72.29,302.06 75.15,304.92 72.29,307.78 69.43,304.92" fill="#5e5eab"/><polygon points="85.92,320.66 88.78,323.52 85.92,326.38 83.06,323.52" fill="#5e5eab"/><polygon points="99.55,360.96 102.41,363.82 99.55,366.68 96.69,363.82" fill="#5e5eab"/><polygon points="126.81,377.70 129.67,380.56 126.81,383.42 123.95,380.56" fill="#5e5eab"/><polygon points="154.07,385.14 156.93,388.00 154.07,390.86 151.21,388.00" fill="#5e5eab"/><polygon points="181.33,385.14 184.19,388.00 181.33,390.86 178.47,388.00" fill="#5e5eab"/><polygon points="208.59,385.14 211.45,388.00 208.59,390.86 205.73,388.00" fill="#5e5eab"/><polygon points="235.85,385.14 238.71,388.00 235.85,390.86 232.99,388.00" fill="#5e5eab"/><polyline points="31.40,388.00 45.03,307.40 58.66,291.90 72.29,327.24 85.92,328.48 99.55,365.68 126.81,386.14 154.07,388.00 181.33,388.00 208.59,388.00 235.85,388.00" fill="none" stroke="#999999" stroke-width="1.3"/><polygon points="28.76,388.00 33.38,385.36 33.38,390.64" fill="#999999"/><polygon points="42.39,307.40 47.01,304.76 47.01,310.04" fill="#999999"/><polygon points="56.02,291.90 60.64,289.26 60.64,294.54" fill="#999999"/><polygon points="69.65,327.24 74.27,324.60 74.27,329.88" fill="#999999"/><polygon points="83.28,328.48 87.90,325.84 87.90,331.12" fill="#999999"/><polygon points="96.91,365.68 101.53,363.04 101.53,368.32" fill="#999999"/><polygon points="124.17,386.14 128.79,383.50 128.79,388.78" fill="#999999"/><polygon points="151.43,388.00 156.05,385.36 156.05,390.64" fill="#999999"/><polygon points="178.69,388.00 183.31,385.36 183.31,390.64" fill="#999999"/><polygon points="205.95,388.00 210.57,385.36 210.57,390.64" fill="#999999"/><polygon points="233.21,388.00 237.83,385.36 237.83,390.64" fill="#999999"/>
<path d="M31.3 217.3H263.1V403.6H31.3Z" fill="none" stroke="#5c5c5c" stroke-width="1.3"/>
<text x="26.1" y="391.10" text-anchor="end" font-size="9.1" font-weight="bold" font-family="Liberation Serif, serif">0</text>
<text x="26.1" y="360.10" text-anchor="end" font-size="9.1" font-weight="bold" font-family="Liberation Serif, serif">5</text>
<text x="26.1" y="329.10" text-anchor="end" font-size="9.1" font-weight="bold" font-family="Liberation Serif, serif">10</text>
<text x="26.1" y="298.10" text-anchor="end" font-size="9.1" font-weight="bold" font-family="Liberation Serif, serif">15</text>
<text x="26.1" y="267.10" text-anchor="end" font-size="9.1" font-weight="bold" font-family="Liberation Serif, serif">20</text>
<text x="26.1" y="236.10" text-anchor="end" font-size="9.1" font-weight="bold" font-family="Liberation Serif, serif">25</text>
<text x="31.40" y="417.6" text-anchor="middle" font-size="9.1" font-weight="bold" font-family="Liberation Serif, serif">0</text>
<text x="58.66" y="417.6" text-anchor="middle" font-size="9.1" font-weight="bold" font-family="Liberation Serif, serif">2</text>
<text x="85.92" y="417.6" text-anchor="middle" font-size="9.1" font-weight="bold" font-family="Liberation Serif, serif">4</text>
<text x="113.18" y="417.6" text-anchor="middle" font-size="9.1" font-weight="bold" font-family="Liberation Serif, serif">6</text>
<text x="140.44" y="417.6" text-anchor="middle" font-size="9.1" font-weight="bold" font-family="Liberation Serif, serif">8</text>
<text x="167.70" y="417.6" text-anchor="middle" font-size="9.1" font-weight="bold" font-family="Liberation Serif, serif">10</text>
<text x="194.96" y="417.6" text-anchor="middle" font-size="9.1" font-weight="bold" font-family="Liberation Serif, serif">12</text>
<text x="222.22" y="417.6" text-anchor="middle" font-size="9.1" font-weight="bold" font-family="Liberation Serif, serif">14</text>
<text x="249.48" y="417.6" text-anchor="middle" font-size="9.1" font-weight="bold" font-family="Liberation Serif, serif">16</text>
<path d="M27.8 388.00H31.3M27.8 357.00H31.3M27.8 326.00H31.3M27.8 295.00H31.3M27.8 264.00H31.3M27.8 233.00H31.3M29.7 372.50H31.3M29.7 341.50H31.3M29.7 310.50H31.3M29.7 279.50H31.3M29.7 248.50H31.3M29.7 217.50H31.3M29.7 403.50H31.3M31.40 403.6V407.1M58.66 403.6V407.1M85.92 403.6V407.1M113.18 403.6V407.1M140.44 403.6V407.1M167.70 403.6V407.1M194.96 403.6V407.1M222.22 403.6V407.1M249.48 403.6V407.1" stroke="#3a3a3a" stroke-width="0.95"/>
<text x="147.6" y="433.5" text-anchor="middle" font-size="9.8" font-weight="bold" font-family="Liberation Serif, serif">Time (d)</text>
<text transform="translate(11.9 310.2) rotate(-90)" text-anchor="middle" font-size="9.7" font-weight="bold" font-family="Liberation Serif, serif">Daily Methane Production (mL/g VS)</text>
<text x="39" y="231.2" font-size="12.4" font-weight="bold" font-family="Liberation Serif, serif">(c)</text>
<path d="M221.3 227.30H242.8" stroke="#f21a1a" stroke-width="1.3"/>
<rect x="229.80" y="224.90" width="4.80" height="4.80" fill="#f21a1a"/>
<text x="245.7" y="231.20" font-size="9.4" class="lg" font-family="Liberation Serif, serif">CK</text>
<path d="M221.3 239.20H242.8" stroke="#2166a8" stroke-width="1.3"/>
<circle cx="232.20" cy="239.20" r="2.52" fill="#2166a8"/>
<text x="245.7" y="243.10" font-size="9.4" class="lg" font-family="Liberation Serif, serif">R1</text>
<path d="M221.3 251.10H242.8" stroke="#ffbd1a" stroke-width="1.3"/>
<polygon points="232.20,248.22 235.08,253.26 229.32,253.26" fill="#ffbd1a"/>
<text x="245.7" y="255.00" font-size="9.4" class="lg" font-family="Liberation Serif, serif">R2</text>
<path d="M221.3 263.00H242.8" stroke="#1fc97a" stroke-width="1.3"/>
<polygon points="232.20,265.88 235.08,260.84 229.32,260.84" fill="#1fc97a"/>
<text x="245.7" y="266.90" font-size="9.4" class="lg" font-family="Liberation Serif, serif">R3</text>
<path d="M221.3 274.90H242.8" stroke="#5e5eab" stroke-width="1.3"/>
<polygon points="232.20,271.78 235.32,274.90 232.20,278.02 229.08,274.90" fill="#5e5eab"/>
<text x="245.7" y="278.80" font-size="9.4" class="lg" font-family="Liberation Serif, serif">R4</text>
<path d="M221.3 286.80H242.8" stroke="#999999" stroke-width="1.3"/>
<polygon points="229.32,286.80 234.36,283.92 234.36,289.68" fill="#999999"/>
<text x="245.7" y="290.70" font-size="9.4" class="lg" font-family="Liberation Serif, serif">R5</text>
</svg></body></html>
